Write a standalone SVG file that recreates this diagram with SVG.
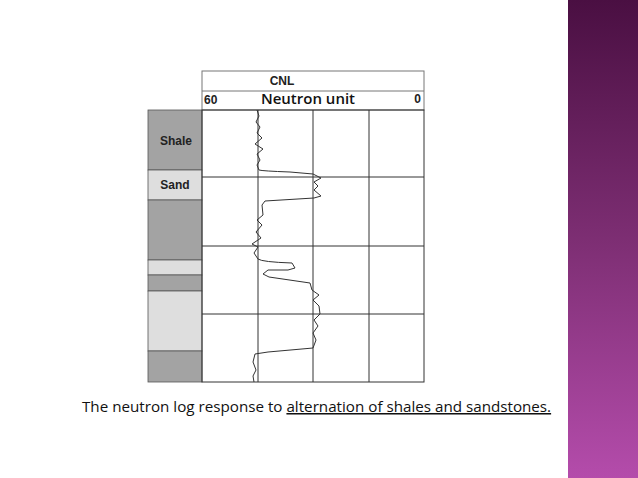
<svg xmlns="http://www.w3.org/2000/svg" width="638" height="478" viewBox="0 0 638 478">
<defs>
<linearGradient id="pg" x1="0" y1="0" x2="0" y2="1"><stop offset="0" stop-color="#4a0f42"/><stop offset="0.5" stop-color="#7d2e73"/><stop offset="1" stop-color="#b44cab"/></linearGradient>
<style>
.g{stroke:#333;stroke-width:1;fill:none}
.dk{fill:#a3a3a3;stroke:#555;stroke-width:0.8}
.lt{fill:#dedede;stroke:#555;stroke-width:0.8}
.b{font-family:"Liberation Sans",Arial,sans-serif;font-weight:bold;font-size:12px;fill:#222}
</style>
</defs>
<rect width="638" height="478" fill="#fff"/>
<rect x="568" y="0" width="70" height="478" fill="url(#pg)"/>
<g id="litho">
<rect class="dk" x="148" y="110" width="54" height="60"/>
<rect class="lt" x="148" y="170" width="54" height="30"/>
<rect class="dk" x="148" y="200" width="54" height="60"/>
<rect class="lt" x="148" y="260" width="54" height="15"/>
<rect class="dk" x="148" y="275" width="54" height="16"/>
<rect class="lt" x="148" y="291" width="54" height="60"/>
<rect class="dk" x="148" y="351" width="54" height="31"/>
<text class="b" x="176" y="145" text-anchor="middle">Shale</text>
<text class="b" x="175" y="189" text-anchor="middle">Sand</text>
</g>
<g id="header">
<rect x="202" y="71" width="222" height="39" fill="#fff" stroke="#777"/>
<line x1="202" y1="91" x2="424" y2="91" stroke="#777"/>
<text class="b" x="282" y="85" text-anchor="middle" font-size="11">CNL</text>
<text class="b" x="204" y="104" font-size="11">60</text>
<text x="308" y="104" text-anchor="middle" font-family="Open Sans,sans-serif" font-weight="600" font-size="15" fill="#111">Neutron unit</text>
<text class="b" x="421" y="103" text-anchor="end" font-size="11">0</text>
</g>
<g id="grid">
<rect class="g" x="202" y="110" width="222" height="272"/>
<path class="g" d="M258 110V382M313 110V382M369 110V382M202 177H424M202 246H424M202 314H424"/>
</g>
<g id="connectors">
<path fill="none" stroke="#333" stroke-width="1" d="M257 110 L259 116 L256 122 L260 127 L257 133 L262 138 L255 144 L263 149 L257 154 L260 160 L257 165 L259 170 Q262 171 290 172 L313 174 L321 178 L314 182 L318 186 L314 190 L321 196 L314 198 L265 201 L262 205 L263 215 L257 220 L262 225 L256 232 L261 238 L252 244 L258 247 L254 253 L258 259 Q262 262 292 263 L295 268 L288 270 L268 270 L263 274 L269 277 L310 283 L312 290 L319 295 L313 300 L319 306 L320 314 L314 320 L318 326 L313 333 L316 340 L313 348 L268 352 L255 354 L253 362 L256 370 L253 376 L254 382"/>
</g>
<text x="82" y="412" font-family="Open Sans,sans-serif" font-size="15.2" fill="#111">The neutron log response to <tspan text-decoration="underline">alternation of shales and sandstones.</tspan></text>
</svg>
